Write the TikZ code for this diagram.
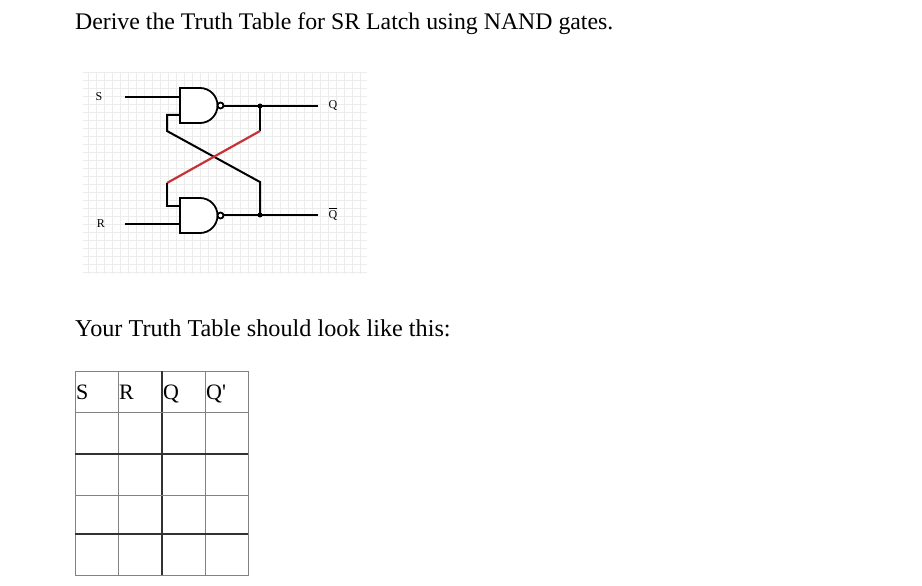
\documentclass[tikz,border=0pt]{standalone}
\usepackage{fontspec}
\setmainfont{Liberation Serif}
\begin{document}
\begin{tikzpicture}[x=1pt,y=-1pt,
  txt/.style={anchor=base west,inner sep=0pt,font=\fontsize{23.8}{28}\selectfont},
  lbl/.style={inner sep=0pt,font=\fontsize{12}{14}\selectfont},
  wire/.style={line width=2pt,black},
  redw/.style={line width=2.2pt,color={rgb,255:red,200;green,50;blue,55}},
  gate/.style={line width=1.8pt,fill=white},
  thin/.style={draw={rgb,255:red,130;green,130;blue,130},line width=1pt},
  thick/.style={draw={rgb,255:red,50;green,50;blue,50},line width=1.5pt},
  cell/.style={anchor=base west,inner sep=0pt,font=\fontsize{22}{26}\selectfont}]
\useasboundingbox (0,0) rectangle (922,586);
\node[txt] (title) at (75,30) {Derive the Truth Table for SR Latch using NAND gates.};
\draw[step=8pt,color={rgb,255:red,236;green,236;blue,236},line width=0.5pt] (83,72) grid (367,274);
\draw[wire] (125,97) -- (180,97);
\draw[wire] (125,224) -- (180,224);
\coordinate (j1) at (260,106);
\coordinate (j2) at (260,215);
\draw[wire] (224,106) -- (318,106);
\draw[wire] (224,215) -- (318,215);
\draw[wire] (180,115) -- (167,115) -- (167,131) -- (260,182) -- (j2);
\draw[wire] (j1) -- (260,131);
\draw[redw] (260,131) -- (167,183);
\draw[wire] (167,183) -- (167,206) -- (180,206);
\draw[gate] (180,88) -- (200,88) arc[start angle=-90,end angle=90,radius=17.5] -- (180,123) -- cycle;
\draw[gate] (220.5,105.5) circle[radius=3];
\draw[gate] (180,198) -- (200,198) arc[start angle=-90,end angle=90,radius=17.5] -- (180,233) -- cycle;
\draw[gate] (220.5,215.5) circle[radius=3];
\fill (j1) circle[radius=2.5];
\fill (j2) circle[radius=2.5];
\node[lbl] (s) at (99,97) {S};
\node[lbl] (r) at (101,224) {R};
\node[lbl] (q) at (333,106) {Q};
\node[lbl] (qb) at (333,214) {$\overline{\mbox{Q}}$};
\node[txt,font=\fontsize{24.2}{28}\selectfont] (sub) at (75,336) {Your Truth Table should look like this:};
\draw[thin] (75,371) rectangle (248,575);
\foreach \x in {118,205} \draw[thin] (\x,371) -- (\x,575);
\draw[thick] (162,371) -- (162,575);
\foreach \y in {412,495} \draw[thin] (75,\y) -- (248,\y);
\foreach \y in {454,534} \draw[thick] (75,\y) -- (248,\y);
\node[cell] (hs) at (76,399) {S};
\node[cell] (hr) at (119,399) {R};
\node[cell] (hq) at (163,399) {Q};
\node[cell] (hq2) at (206,399) {Q\textquotesingle};
\end{tikzpicture}
\end{document}
